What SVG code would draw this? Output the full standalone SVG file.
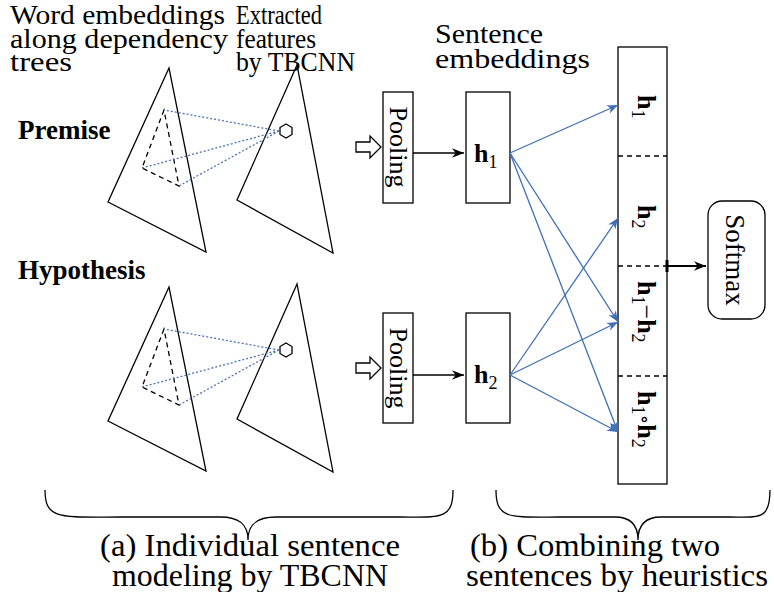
<svg xmlns="http://www.w3.org/2000/svg" width="774" height="592" viewBox="0 0 774 592" font-family="'Liberation Serif','Times New Roman','DejaVu Serif',serif">
<style>
text{font-family:'Liberation Serif','Times New Roman','DejaVu Serif',serif;fill:#000}
.t{font-size:27px}
.c{font-size:32px}
.b{font-weight:bold;font-size:27px}
.s{fill:none;stroke:#000;stroke-width:1.3}
.d{fill:none;stroke:#000;stroke-width:1.3;stroke-dasharray:5,4}
.dot{fill:none;stroke:#4a74b4;stroke-width:1.3;stroke-dasharray:2,2}
.bl{stroke:#3f6fb5;stroke-width:1.3;fill:none;marker-end:url(#ab)}
.r{font-size:26px}
</style>
<defs>
<marker id="ab" viewBox="0 0 10 10" refX="10" refY="5" markerWidth="11" markerHeight="11" markerUnits="userSpaceOnUse" orient="auto"><path d="M0,1L10,5L0,9L3,5z" fill="#3f6fb5"/></marker>
<marker id="ak" viewBox="0 0 10 10" refX="10" refY="5" markerWidth="12" markerHeight="12" markerUnits="userSpaceOnUse" orient="auto"><path d="M0,1L10,5L0,9L3,5z" fill="#000"/></marker>
<g id="tree">
<polygon class="s" points="169,68 108,202 206,252"/>
<polygon class="d" points="164,110 142,168 179,186"/>
<polygon class="s" points="297,65 237,200 333,253"/>
<polygon class="s" points="286,124 292,127.5 292,134.5 286,138 280,134.5 280,127.5"/>
<path class="dot" d="M279,131L164,110M279,131L142,168M279,131L179,186"/>
</g>
</defs>
<g id="labels">
<text class="t" x="10" y="24" textLength="215" lengthAdjust="spacingAndGlyphs">Word embeddings</text>
<text class="t" x="10" y="48" textLength="218" lengthAdjust="spacingAndGlyphs">along dependency</text>
<text class="t" x="10" y="71" textLength="62" lengthAdjust="spacingAndGlyphs">trees</text>
<text class="t" x="236" y="24" textLength="86" lengthAdjust="spacingAndGlyphs">Extracted</text>
<text class="t" x="236" y="48" textLength="80" lengthAdjust="spacingAndGlyphs">features</text>
<text class="t" x="236" y="71" textLength="119" lengthAdjust="spacingAndGlyphs">by TBCNN</text>
<text class="t" x="435" y="43" textLength="108" lengthAdjust="spacingAndGlyphs">Sentence</text>
<text class="t" x="435" y="68" textLength="155" lengthAdjust="spacingAndGlyphs">embeddings</text>
<text class="b" x="18" y="139">Premise</text>
<text class="b" x="18" y="279">Hypothesis</text>
</g>
<g id="premise-tree"><use href="#tree"/></g>
<g id="hypothesis-tree"><use href="#tree" transform="translate(0,219)"/></g>
<g id="pool1"><rect class="s" x="383" y="92" width="30" height="111"/><text class="r" transform="translate(390,147) rotate(90)" text-anchor="middle">Pooling</text></g>
<g id="pool2"><rect class="s" x="383" y="313" width="30" height="110"/><text class="r" transform="translate(390,368) rotate(90)" text-anchor="middle">Pooling</text></g>
<g id="h1"><rect class="s" x="466" y="92" width="44" height="111"/><text x="474" y="162" style="font-size:26px;font-weight:bold">h<tspan style="font-weight:normal;font-size:18px" dy="6">1</tspan></text></g>
<g id="h2"><rect class="s" x="466" y="313" width="44" height="110"/><text x="474" y="383" style="font-size:26px;font-weight:bold">h<tspan style="font-weight:normal;font-size:18px" dy="6">2</tspan></text></g>
<g id="combined">
<rect class="s" x="618" y="47" width="49" height="437"/>
<path class="d" d="M618,156H667M618,266H667M618,376H667"/>
<text transform="translate(638,95) rotate(90)" style="font-size:26px;font-weight:bold">h<tspan style="font-weight:normal;font-size:18px" dy="6">1</tspan></text>
<text transform="translate(638,205) rotate(90)" style="font-size:26px;font-weight:bold">h<tspan style="font-weight:normal;font-size:18px" dy="6">2</tspan></text>
<text transform="translate(638,281) rotate(90)" style="font-size:26px;font-weight:bold">h<tspan style="font-weight:normal;font-size:18px" dy="6">1</tspan><tspan style="font-weight:normal" dy="-6">−</tspan>h<tspan style="font-weight:normal;font-size:18px" dy="6">2</tspan></text>
<text transform="translate(638,391) rotate(90)" style="font-size:26px;font-weight:bold">h<tspan style="font-weight:normal;font-size:18px" dy="6">1</tspan><tspan style="font-weight:normal;font-size:20px" dy="-6">∘</tspan>h<tspan style="font-weight:normal;font-size:18px" dy="6">2</tspan></text>
</g>
<g id="softmax"><rect class="s" x="708" y="201" width="57" height="118" rx="14"/><text class="t" transform="translate(726,260) rotate(90)" text-anchor="middle">Softmax</text></g>
<g id="connectors">
<path class="s" d="M356,142H370V136L381,147L370,158V152H356Z"/>
<path class="s" d="M356,363H370V357L381,368L370,379V373H356Z"/>
<path class="s" d="M413,153H464" marker-end="url(#ak)"/>
<path class="s" d="M413,375H464" marker-end="url(#ak)"/>
<path class="bl" d="M510,153L618,105"/>
<path class="bl" d="M510,153L618,322"/>
<path class="bl" d="M510,153L618,432"/>
<path class="bl" d="M510,375L618,218"/>
<path class="bl" d="M510,375L618,322"/>
<path class="bl" d="M510,375L618,432"/>
<path d="M667,266H706" stroke="#000" stroke-width="2" marker-end="url(#ak)"/>
<path d="M667,260V272" stroke="#000" stroke-width="3"/>
</g>
<g id="braces">
<path class="s" d="M45,490C45,520 60,517 120,517H220C240,517 248,525 248,540C248,525 256,517 276,517H400C440,517 453,520 453,490"/>
<path class="s" d="M496,490C496,520 510,517 560,517H615C630,517 638,525 638,540C638,525 646,517 661,517H730C760,517 770,520 770,490"/>
</g>
<g id="captions">
<text class="c" x="100" y="556" textLength="300" lengthAdjust="spacingAndGlyphs">(a) Individual sentence</text>
<text class="c" x="112" y="586" textLength="276" lengthAdjust="spacingAndGlyphs">modeling by TBCNN</text>
<text class="c" x="470" y="556" textLength="250" lengthAdjust="spacingAndGlyphs">(b) Combining two</text>
<text class="c" x="466" y="586" textLength="302" lengthAdjust="spacingAndGlyphs">sentences by heuristics</text>
</g>
</svg>
